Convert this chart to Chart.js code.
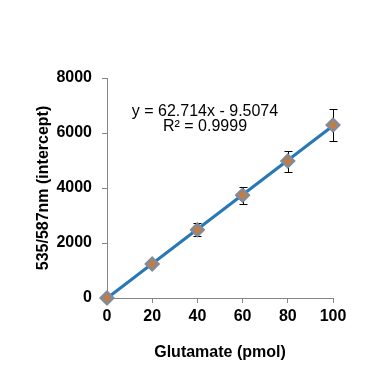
<!DOCTYPE html>
<html>
<head>
<meta charset="utf-8">
<script src="https://cdn.jsdelivr.net/npm/chart.js@4"></script>
<style>
html,body{margin:0;padding:0;background:#fff;}
#wrap{width:390px;height:383px;}
</style>
</head>
<body>
<div id="wrap"><canvas id="c" width="390" height="383"></canvas></div>
<script>
const xValues = [0, 20, 40, 60, 80, 100];
const yValues = [0, 1240, 2480, 3740, 4980, 6290];
const yErrors = [0, 90, 235, 310, 380, 580];
const slope = 62.714;
const intercept = -9.5074;
const equationText = ['y = 62.714x - 9.5074', 'R² = 0.9999'];
const xTickValues = [0, 20, 40, 60, 80, 100];
const yTickValues = [0, 2000, 4000, 6000, 8000];

const trendX = [0, 100];
const trendPoints = trendX.map(x => ({x: x, y: slope * x + intercept}));
const points = xValues.map((x, i) => ({x: x, y: yValues[i], e: yErrors[i]}));

const FONT = '"Liberation Sans", Arial, sans-serif';

const errorBars = {
  id: 'errorBars',
  afterDatasetsDraw(chart) {
    const ctx = chart.ctx, xs = chart.scales.x, ys = chart.scales.y;
    ctx.save();
    ctx.strokeStyle = '#000';
    ctx.lineWidth = 1;
    points.forEach(p => {
      if (!p.e) return;
      const px = Math.round(xs.getPixelForValue(p.x)) + 0.5;
      const top = Math.round(ys.getPixelForValue(p.y + p.e)) + 0.5;
      const bot = Math.round(ys.getPixelForValue(p.y - p.e)) + 0.5;
      ctx.beginPath();
      ctx.moveTo(px, top); ctx.lineTo(px, bot);
      ctx.moveTo(px - 4, top); ctx.lineTo(px + 4, top);
      ctx.moveTo(px - 4, bot); ctx.lineTo(px + 4, bot);
      ctx.stroke();
    });
    const meta = chart.getDatasetMeta(1);
    meta.data.forEach(el => el.draw(ctx));
    ctx.restore();
  }
};

const eqLabel = {
  id: 'eqLabel',
  afterDraw(chart) {
    const ctx = chart.ctx;
    ctx.save();
    ctx.fillStyle = '#000';
    ctx.font = '16px ' + FONT;
    ctx.textAlign = 'center';
    ctx.textBaseline = 'alphabetic';
    ctx.fillText(equationText[0], 205, 116);
    ctx.fillText(equationText[1], 205, 131);
    ctx.restore();
  }
};

new Chart(document.getElementById('c'), {
  type: 'scatter',
  data: {
    datasets: [
      {
        type: 'line',
        data: trendPoints,
        borderColor: '#2878b5',
        borderWidth: 3,
        pointRadius: 0,
        fill: false,
        order: 2
      },
      {
        type: 'scatter',
        data: points,
        pointStyle: 'rectRot',
        pointRadius: 6,
        pointBorderWidth: 2.5,
        backgroundColor: '#c47d3e',
        borderColor: '#838b98',
        clip: false,
        order: 1
      }
    ]
  },
  plugins: [errorBars, eqLabel],
  options: {
    responsive: false,
    animation: false,
    layout: {padding: {left: 34, top: 78, right: 57, bottom: 21}},
    plugins: {legend: {display: false}, tooltip: {enabled: false}},
    scales: {
      x: {
        type: 'linear',
        min: 0, max: 100,
        afterBuildTicks: s => { s.ticks = xTickValues.map(v => ({value: v})); },
        afterFit: s => { s.height = 64; },
        grid: {drawOnChartArea: false, color: '#868686', tickLength: 5},
        border: {color: '#868686', width: 1},
        ticks: {color: '#000', padding: 4, callback: v => String(v), font: {family: FONT, size: 16, weight: 'bold'}},
        title: {display: true, text: 'Glutamate (pmol)', color: '#000', padding: 0, font: {family: FONT, size: 16, weight: 'bold'}}
      },
      y: {
        type: 'linear',
        min: 0, max: 8000,
        afterBuildTicks: s => { s.ticks = yTickValues.map(v => ({value: v})); },
        afterFit: s => { s.width = 73; },
        grid: {drawOnChartArea: false, color: '#868686', tickLength: 5},
        border: {color: '#868686', width: 1},
        ticks: {color: '#000', padding: 10, callback: v => String(v), font: {family: FONT, size: 16, weight: 'bold'}},
        title: {display: true, text: '535/587nm (intercept)', color: '#000', padding: 0, font: {family: FONT, size: 16, weight: 'bold'}}
      }
    }
  }
});
</script>
</body>
</html>
